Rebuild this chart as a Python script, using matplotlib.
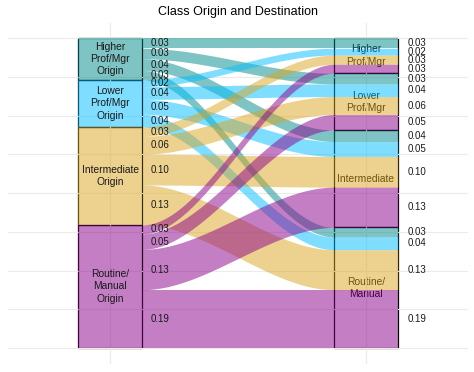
import matplotlib.pyplot as plt
from matplotlib.patches import Rectangle
import numpy as np

plt.rcParams['font.family'] = ['Liberation Sans', 'DejaVu Sans']

# classes (top to bottom)
origin_labels = ['Higher\nProf/Mgr\nOrigin', 'Lower\nProf/Mgr\nOrigin', 'Intermediate\nOrigin', 'Routine/\nManual\nOrigin']
dest_labels = ['Higher\nProf/Mgr', 'Lower\nProf/Mgr', 'Intermediate', 'Routine/\nManual']

# share of people: rows = origin, columns = destination
flows = np.array([
    [0.033, 0.034, 0.037, 0.031],
    [0.022, 0.041, 0.048, 0.041],
    [0.030, 0.058, 0.099, 0.129],
    [0.029, 0.050, 0.130, 0.188],
])

colors = ['darkcyan', 'deepskyblue', 'goldenrod', 'darkmagenta']
alpha = 0.5
w = 0.25  # stratum width
x_left, x_right = 1, 2

fig = plt.figure(figsize=(4.74, 3.72), dpi=100)
W, H = 474, 372
px_l, px_r, px_t, px_b = 7.6, 468.4, 22.5, 363.5
ax = fig.add_axes([px_l / W, 1 - px_b / H, (px_r - px_l) / W, (px_b - px_t) / H])
ax.set_xlim(0.6, 2.4)
ax.set_ylim(-0.05, 1.05)
ax.set_yticks(np.arange(0, 1.001, 0.125))
ax.set_xticks([x_left, x_right])
ax.grid(True, color='#ebebeb', lw=0.8, zorder=0)
ax.tick_params(length=0, labelleft=False, labelbottom=False)
for s in ax.spines.values():
    s.set_visible(False)

n = len(colors)
row_tot = flows.sum(axis=1)
col_tot = flows.sum(axis=0)

# stratum tops (stacked from top = 1)
o_top = 1 - np.concatenate([[0], np.cumsum(row_tot)[:-1]])
d_top = 1 - np.concatenate([[0], np.cumsum(col_tot)[:-1]])

# lode tops on each side
left_top = np.zeros((n, n))
for i in range(n):
    y = o_top[i]
    for j in range(n):
        left_top[i, j] = y
        y -= flows[i, j]
right_top = np.zeros((n, n))
for j in range(n):
    y = d_top[j]
    for i in range(n):
        right_top[i, j] = y
        y -= flows[i, j]

# strata outlines
for i in range(n):
    ax.add_patch(Rectangle((x_left - w / 2, o_top[i] - row_tot[i]), w, row_tot[i],
                           fc='none', ec='black', lw=0.9, zorder=1))
    ax.add_patch(Rectangle((x_left - w / 2, o_top[i] - row_tot[i]), w, row_tot[i],
                           fc=colors[i], alpha=alpha, lw=0, zorder=2))
    ax.text(x_left, o_top[i] - row_tot[i] / 2, origin_labels[i], ha='center', va='center',
            fontsize=7.4, linespacing=1.3, color='#1a1a1a', zorder=5)
for j in range(n):
    ax.add_patch(Rectangle((x_right - w / 2, d_top[j] - col_tot[j]), w, col_tot[j],
                           fc='none', ec='black', lw=0.9, zorder=1))
    ax.text(x_right, d_top[j] - col_tot[j] / 2, dest_labels[j], ha='center', va='center',
            fontsize=7.4, linespacing=1.3, color='black', zorder=1.5)

# flows
x0, x1 = x_left + w / 2, x_right - w / 2
t = np.linspace(0, 1, 200)
s = 3 * t ** 2 - 2 * t ** 3
xs = np.concatenate([x0 + (x1 - x0) * t, [x_right + w / 2]])
for i in range(n):
    for j in range(n):
        top = left_top[i, j] + (right_top[i, j] - left_top[i, j]) * s
        top = np.append(top, right_top[i, j])
        bot = top - flows[i, j]
        ax.fill_between(xs, bot, top, color=colors[i], alpha=alpha, lw=0, zorder=2)

# value labels
for i in range(n):
    for j in range(n):
        ax.text(x0 + 0.035, left_top[i, j] - flows[i, j] / 2, '%.2f' % flows[i, j],
                ha='left', va='center', fontsize=7, color='#1a1a1a', zorder=5)
        ax.text(x_right + w / 2 + 0.038, right_top[i, j] - flows[i, j] / 2, '%.2f' % flows[i, j],
                ha='left', va='center', fontsize=7, color='#1a1a1a', zorder=5)

fig.text(238 / W, 1 - 11.5 / H, 'Class Origin and Destination', ha='center', va='center',
         fontsize=9, color='black')

fig.savefig('out.png', dpi=100)
